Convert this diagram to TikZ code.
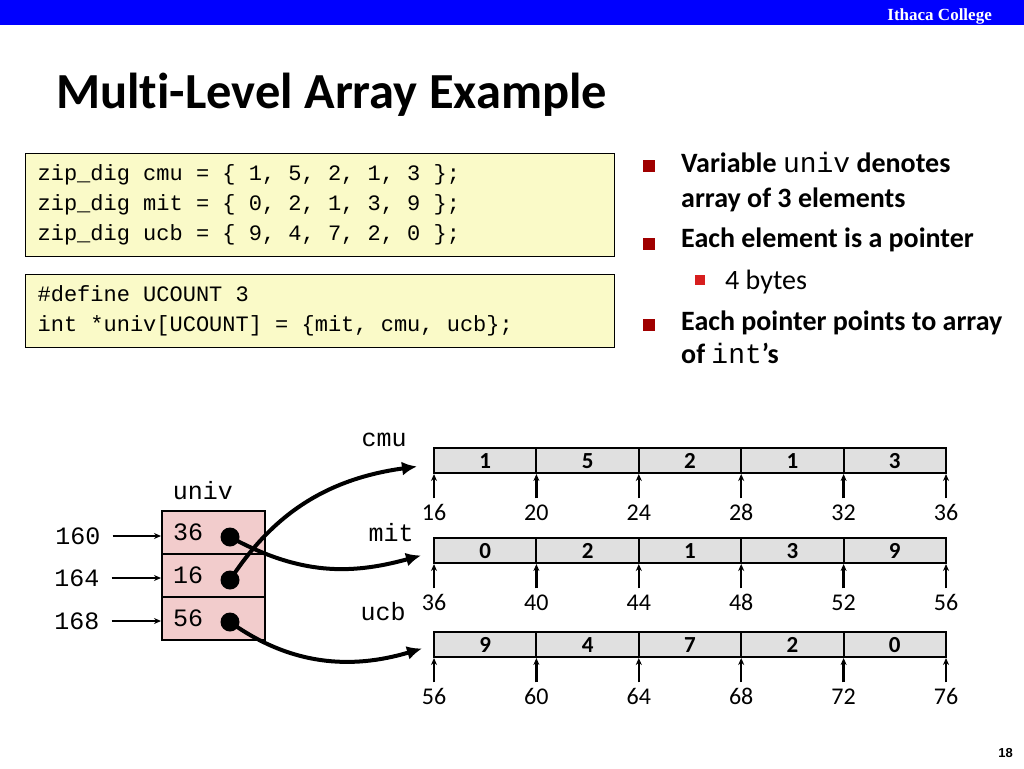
\documentclass[tikz,border=0pt]{standalone}
\usepackage{fontspec}
\setmainfont{Carlito}[Ligatures=NoCommon]
\setmonofont{Liberation Mono}
\newfontfamily\collegefont{Liberation Serif}
\newfontfamily\pagefont{Liberation Sans}
\usetikzlibrary{arrows.meta,positioning}

\definecolor{barblue}{RGB}{0,0,255}
\definecolor{codeyellow}{RGB}{250,250,200}
\definecolor{univpink}{RGB}{242,204,204}
\definecolor{cellgray}{RGB}{224,224,224}
\definecolor{bulletred}{RGB}{160,0,0}
\definecolor{subred}{RGB}{215,30,30}

\newcommand{\pxsize}[2]{\fontsize{#1pt}{#2pt}\selectfont}

\begin{document}
\begin{tikzpicture}[x=1pt, y=-1pt, every node/.style={inner sep=0pt},
    codebox/.style={draw, line width=1.2pt, fill=codeyellow, anchor=north west, minimum width=589pt, text width=565pt, inner xsep=12pt, align=left, font=\ttfamily\pxsize{22}{30}, execute at begin node={\spaceskip=0.6em\relax\xspaceskip=0.6em\relax}},
    bulletsq/.style={fill=bulletred, minimum size=12pt},
    subsq/.style={fill=subred, minimum size=10pt},
    btext/.style={anchor=base west, font=\bfseries\pxsize{28}{34}},
    ttlabel/.style={font=\ttfamily\pxsize{25}{25}},
    ucell/.style={draw, line width=2pt, fill=univpink, minimum width=103pt, minimum height=43pt, text width=81pt, inner xsep=11pt, align=left, font=\ttfamily\pxsize{25}{25}},
    dot/.style={circle, fill=black, minimum size=19pt},
    acell/.style={draw, line width=2pt, fill=cellgray, minimum width=102.4pt, minimum height=25pt, text height=15pt, text depth=0pt, font=\bfseries\pxsize{23}{23}},
    tlabel/.style={text height=15pt, text depth=0pt, font=\pxsize{24}{24}},
    tick/.style={line width=2.4pt, -{Stealth[length=7pt,width=6pt]}},
    addr/.style={line width=2pt, -{Stealth[length=7pt,width=6pt]}},
    ptr/.style={line width=4pt, -{Latex[length=15pt,width=14pt]}}]

\useasboundingbox (0,0) rectangle (1024,768);

% header
\fill[barblue] (0,0) rectangle (1024,25);
\node[anchor=base east, text=white, font=\collegefont\bfseries\pxsize{17}{17}] (college) at (992,21) {Ithaca College};
\node[anchor=base west, font=\bfseries\pxsize{50.5}{50.5}] (title) at (56,108) {Multi-Level Array Example};

% code
\node[codebox, minimum height=103pt] (decl) at (25,153) {zip\_dig cmu = \{ 1, 5, 2, 1, 3 \};\\zip\_dig mit = \{ 0, 2, 1, 3, 9 \};\\zip\_dig ucb = \{ 9, 4, 7, 2, 0 \};};
\node[codebox, minimum height=73pt, below=17pt of decl] (univdecl) {\#define UCOUNT 3\\int *univ[UCOUNT] = \{mit, cmu, ucb\};};

% bullets
\node[bulletsq] (b1) at (649,166) {};
\node[btext] (t1a) at (681,172) {Variable {\mdseries\ttfamily univ} denotes};
\node[btext] (t1b) at (681,207) {array of 3 elements};
\node[bulletsq] (b2) at (649,244) {};
\node[btext] (t2) at (681,247) {Each element is a pointer};
\node[subsq] (b3) at (700,280) {};
\node[btext, font=\pxsize{28}{34}] (t3) at (725,289) {4 bytes};
\node[bulletsq] (b4) at (649,325) {};
\node[btext] (t4a) at (681,330) {Each pointer points to array};
\node[btext] (t4b) at (681,363) {of {\mdseries\ttfamily int}’s};

% univ
\node[ttlabel] (univ) at (203,491) {univ};
\node[ucell] (u0) at (213.5,532.5) {36};
\node[ucell] (u1) at (213.5,575.5) {16};
\node[ucell] (u2) at (213.5,618.5) {56};
\node[ttlabel] (a0) at (78,536) {160};
\node[ttlabel] (a1) at (77,578) {164};
\node[ttlabel] (a2) at (77,621) {168};
\foreach \i in {0,1,2}
  \draw[addr] ([xshift=12pt]a\i.east) -- (a\i.east -| u\i.west);

% arrays
\node[ttlabel] (cmu) at (384,440) {cmu};
\node[ttlabel] (mit) at (391,533) {mit};
\node[ttlabel] (ucb) at (383,612) {ucb};
\foreach \arr/\ty/\base/\vals in {cmu/460.5/16/{1,5,2,1,3}, mit/550.5/36/{0,2,1,3,9}, ucb/644.5/56/{9,4,7,2,0}}{
  \foreach \v [count=\i from 0] in \vals
    \node[acell] (\arr-\i) at ({485.2+102.4*\i}, \ty) {\v};
  \foreach \k in {0,...,5}{
    \pgfmathtruncatemacro{\addrval}{\base+4*\k}
    \node[tlabel] (\arr-a\k) at ({434+102.4*\k}, \ty+52.5) {\addrval};
    \draw[tick] ([yshift=7pt]\arr-a\k.north) -- (\arr-a\k.north |- \arr-0.south);
  }
}

% pointers
\coordinate (p0) at (230,537);
\coordinate (p1) at (230,580);
\coordinate (p2) at (230,622);
\draw[ptr] (p1) .. controls (268,522) and (318,480) .. ([xshift=-16pt,yshift=-6pt]cmu-0.west);
\draw[ptr] (p0) .. controls (300,575) and (350,575) .. ([xshift=-12pt,yshift=-5pt]mit-0.west);
\draw[ptr] (p2) .. controls (290,665) and (350,670) .. ([xshift=-11pt,yshift=-4pt]ucb-0.west);
\node[dot] (d0) at (p0) {};
\node[dot] (d1) at (p1) {};
\node[dot] (d2) at (p2) {};

\node[anchor=base east, font=\pagefont\bfseries\pxsize{13}{13}] (page) at (1013,757) {18};
\end{tikzpicture}
\end{document}
